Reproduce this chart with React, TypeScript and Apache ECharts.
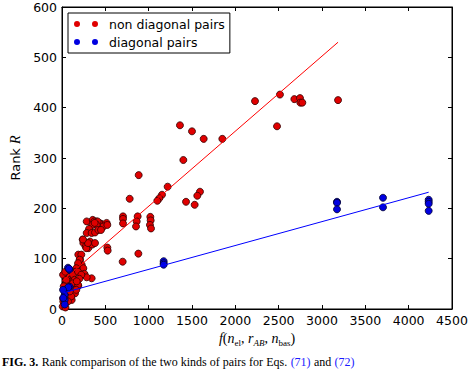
import React, { useEffect, useRef } from "react";
import * as echarts from "echarts";

// non diagonal pairs (x, y)
const nonDiagX = [
  2227, 2515, 2481, 2681, 2746, 2750, 2773, 3185,
  1361, 1500, 1635, 1850, 1400, 885, 1219, 781, 1154, 1123, 1100, 1592, 1561, 1431, 1531,
  704, 704, 704, 873, 862, 854, 1019, 1023, 1015, 1027,
  515, 458, 523, 527, 700, 881, 342,
  285, 354, 392, 430, 477, 373, 411, 400, 350, 312, 285, 342, 381, 419, 450, 523,
  239, 246, 273, 304, 323, 350, 381, 281, 300, 377,
  188, 208, 227, 181, 246, 258, 285, 223, 242, 204, 185, 165,
  158, 112, 66, 73, 131, 54, 150, 188, 73, 35, 66, 35, 15, 112, 27, 150,
  12, 38, 50, 127, 146, 185, 223, 127, 185, 165, 12, 107, 69, 20, 8, 40, 90, 200, 170,
];
const nonDiagY = [
  413, 426, 363, 417, 419, 410, 410, 415,
  365, 353, 338, 338, 296, 266, 243, 219, 227, 220, 215, 233, 225, 213, 207,
  184, 179, 170, 184, 174, 164, 183, 176, 167, 160,
  171, 169, 122, 116, 94, 110, 61,
  174, 177, 174, 171, 164, 174, 174, 167, 167, 159, 151, 151, 152, 157, 157, 167,
  138, 131, 124, 121, 134, 128, 131, 121, 131, 171,
  108, 98, 88, 84, 81, 70, 63, 108, 138, 98, 91, 81,
  74, 71, 64, 58, 58, 51, 48, 46, 41, 34, 28, 21, 15, 18, 8, 31,
  68, 74, 58, 68, 58, 74, 68, 51, 48, 38, 21, 25, 15, 45, 5, 3, 35, 60, 55,
];

// diagonal pairs (x, y)
const diagX = [69, 88, 81, 88, 61, 73, 31, 31, 31, 12, 15, 1173, 1173, 1173, 3173, 3173, 3173, 3704, 3704, 4231, 4231, 4231, 4231];
const diagY = [82, 78, 80, 44, 41, 43, 28, 18, 9, 38, 22, 95, 91, 88, 213, 211, 198, 221, 202, 217, 213, 209, 195];

// linear fits (endpoints)
const nonDiagFitX = [0, 3185];
const nonDiagFitY = [55, 530];
const diagFitX = [15, 4231];
const diagFitY = [32, 232];

const xTicks = { min: 0, max: 4500, interval: 500 };
const yTicks = { min: 0, max: 600, interval: 100 };

const zip = (xs: number[], ys: number[]) => xs.map((x, i) => [x, ys[i]]);

const TWO_DOTS =
  "path://M3,0 A3,3 0 1,1 3,6 A3,3 0 1,1 3,0 Z M21,0 A3,3 0 1,1 21,6 A3,3 0 1,1 21,0 Z";

export default function App() {
  const ref = useRef<HTMLDivElement>(null);
  useEffect(() => {
    if (!ref.current) return;
    const chart = echarts.init(ref.current, null, { renderer: "svg" });
    const sans = "DejaVu Sans";
    const serif = "Liberation Serif";
    const tickFont = { color: "#000", fontFamily: sans, fontSize: 12.5 };
    const axisCommon = {
      axisLine: { show: true, onZero: false, lineStyle: { color: "#000", width: 1 } },
      axisTick: { show: true, inside: true, length: 4, lineStyle: { color: "#000", width: 1 } },
      splitLine: { show: false },
    };
    chart.setOption({
      animation: false,
      backgroundColor: "#fff",
      grid: {
        left: 62,
        right: 22,
        top: 7,
        bottom: 61,
        show: true,
        borderColor: "#000",
        borderWidth: 1,
        backgroundColor: "transparent",
      },
      legend: {
        left: 68,
        top: 13,
        orient: "vertical",
        backgroundColor: "#fff",
        borderColor: "#000",
        borderWidth: 1,
        borderRadius: 0,
        padding: [4, 5, 4, 6],
        itemWidth: 24,
        itemHeight: 6,
        itemGap: 4,
        icon: TWO_DOTS,
        itemStyle: { borderWidth: 0 },
        textStyle: { color: "#000", fontFamily: sans, fontSize: 12.5, lineHeight: 14, padding: [0, 0, 0, 6] },
        data: ["non diagonal pairs", "diagonal pairs"],
      },
      xAxis: [
        {
          type: "value",
          position: "bottom",
          ...xTicks,
          ...axisCommon,
          axisLabel: { ...tickFont, margin: 5, formatter: (v: number) => String(v) },
          name: "{it|f}{rm|(}{it|n}{sub|el}{rm|, }{it|r}{subi|AB}{rm|, }{it|n}{sub|bas}{rm|)}",
          nameLocation: "middle",
          nameGap: 21,
          nameTextStyle: {
            rich: {
              it: { fontFamily: serif, fontStyle: "italic", fontSize: 14, color: "#000", verticalAlign: "top", lineHeight: 16 },
              rm: { fontFamily: serif, fontSize: 14, color: "#000", verticalAlign: "top", lineHeight: 16 },
              sub: { fontFamily: serif, fontSize: 9, color: "#000", verticalAlign: "top", lineHeight: 16, padding: [7, 0, 0, 0] },
              subi: { fontFamily: serif, fontStyle: "italic", fontSize: 9, color: "#000", verticalAlign: "top", lineHeight: 16, padding: [7, 0, 0, 0] },
            },
          },
        },
        {
          type: "value",
          position: "top",
          ...xTicks,
          ...axisCommon,
          axisLabel: { show: false },
        },
      ],
      yAxis: [
        {
          type: "value",
          position: "left",
          ...yTicks,
          ...axisCommon,
          axisLabel: { ...tickFont, margin: 5, formatter: (v: number) => String(v) },
          name: "{s|Rank }{it|R}",
          nameLocation: "middle",
          nameGap: 36,
          nameRotate: 90,
          nameTextStyle: {
            rich: {
              s: { fontFamily: sans, fontSize: 13, color: "#000" },
              it: { fontFamily: serif, fontStyle: "italic", fontSize: 14, color: "#000" },
            },
          },
        },
        {
          type: "value",
          position: "right",
          ...yTicks,
          ...axisCommon,
          axisLabel: { show: false },
        },
      ],
      series: [
        {
          name: "non diagonal pairs",
          type: "scatter",
          data: zip(nonDiagX, nonDiagY),
          symbol: "circle",
          symbolSize: 7,
          itemStyle: { color: "#e00000", borderColor: "#300000", borderWidth: 0.8, opacity: 1 },
          z: 3,
        },
        {
          name: "diagonal pairs",
          type: "scatter",
          data: zip(diagX, diagY),
          symbol: "circle",
          symbolSize: 7,
          itemStyle: { color: "#0000e0", borderColor: "#000030", borderWidth: 0.8, opacity: 1 },
          z: 3,
        },
        {
          name: "fit non diagonal",
          type: "line",
          data: zip(nonDiagFitX, nonDiagFitY),
          showSymbol: false,
          symbol: "none",
          lineStyle: { color: "#ff0000", width: 1 },
          silent: true,
          z: 4,
        },
        {
          name: "fit diagonal",
          type: "line",
          data: zip(diagFitX, diagFitY),
          showSymbol: false,
          symbol: "none",
          lineStyle: { color: "#0000ff", width: 1 },
          silent: true,
          z: 4,
        },
      ],
      graphic: [
        {
          type: "text",
          left: 2,
          top: 356,
          style: {
            text: "{b|FIG. 3.} {n|Rank comparison of the two kinds of pairs for} {n|Eqs.} {l|(71)} {n|and} {l|(72)}",
            rich: {
              b: { fontFamily: serif, fontWeight: "bold", fontSize: 12, lineHeight: 13, fill: "#000" },
              n: { fontFamily: serif, fontSize: 12, lineHeight: 13, fill: "#000" },
              l: { fontFamily: serif, fontSize: 12, lineHeight: 13, fill: "#1a1aff" },
            },
          },
        },
      ],
    });
    return () => chart.dispose();
  }, []);
  return (
    <div
      ref={ref}
      style={{ position: "fixed", left: 0, top: 0, width: 474, height: 370, background: "#fff" }}
    />
  );
}
